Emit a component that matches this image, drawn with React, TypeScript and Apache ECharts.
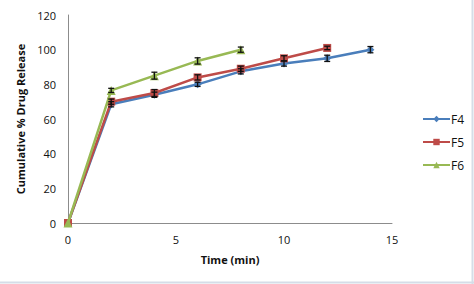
import React, { useEffect, useRef } from "react";
import * as echarts from "echarts";

// Sampling times (min) and cumulative % drug release per formulation
const timesF4 = [0, 2, 4, 6, 8, 10, 12, 14];
const releaseF4 = [0, 68.5, 74, 80, 87.5, 92, 95, 100];
const errorF4 = [0, 1.5, 1.5, 1.2, 1.5, 1.5, 1.8, 1.8];

const timesF5 = [0, 2, 4, 6, 8, 10, 12];
const releaseF5 = [0, 70, 75, 84, 89, 95, 101];
const errorF5 = [0, 1.5, 2, 1.5, 1.5, 1.5, 1.0];

const timesF6 = [0, 2, 4, 6, 8];
const releaseF6 = [0, 76.5, 85, 93.5, 100];
const errorF6 = [0, 1.2, 2, 1.8, 1.5];

const seriesNames = ["F4", "F5", "F6"];
const seriesColors = ["#4a7ebb", "#be4b48", "#98b954"];
const seriesSymbols = ["diamond", "rect", "triangle"];

const FONT = "'Open Sans', 'Liberation Sans', sans-serif";

function pairs(xs: number[], ys: number[]) {
  return xs.map((x, i) => [x, ys[i]]);
}

function triples(xs: number[], ys: number[], es: number[]) {
  return xs.map((x, i) => [x, ys[i], es[i]]);
}

// Vertical error bar with caps at each point
function errorBarItem(params: any, api: any) {
  const x = api.value(0);
  const y = api.value(1);
  const e = api.value(2);
  if (!e) return null;
  const top = api.coord([x, y + e]);
  const bottom = api.coord([x, y - e]);
  const half = 3;
  const style = { stroke: "#111", lineWidth: 1.3 };
  return {
    type: "group",
    children: [
      { type: "line", shape: { x1: top[0], y1: top[1], x2: bottom[0], y2: bottom[1] }, style },
      { type: "line", shape: { x1: top[0] - half, y1: top[1], x2: top[0] + half, y2: top[1] }, style },
      { type: "line", shape: { x1: bottom[0] - half, y1: bottom[1], x2: bottom[0] + half, y2: bottom[1] }, style },
    ],
  };
}

export default function App() {
  const ref = useRef<HTMLDivElement>(null);

  useEffect(() => {
    document.body.style.margin = "0";
    if (!ref.current) return;
    const chart = echarts.init(ref.current, undefined, { renderer: "svg" });

    const times = [timesF4, timesF5, timesF6];
    const values = [releaseF4, releaseF5, releaseF6];
    const errors = [errorF4, errorF5, errorF6];

    const lineSeries = seriesNames.map((name, i) => ({
      name,
      type: "line",
      data: pairs(times[i], values[i]),
      symbol: seriesSymbols[i],
      symbolSize: i === 2 ? 9 : 8,
      showSymbol: true,
      lineStyle: { color: seriesColors[i], width: 2.5 },
      itemStyle: { color: seriesColors[i] },
      z: 2 + i,
    }));

    const errorSeries = seriesNames.map((name, i) => ({
      name: name + " error",
      type: "custom",
      renderItem: errorBarItem,
      data: triples(times[i], values[i], errors[i]),
      z: 10,
      silent: true,
    }));

    chart.setOption({
      animation: false,
      backgroundColor: "#ffffff",
      color: seriesColors,
      grid: { left: 68, right: 82, top: 15, bottom: 61, containLabel: false },
      legend: {
        data: seriesNames,
        orient: "vertical",
        left: 417,
        top: 108,
        itemWidth: 27,
        itemHeight: 8,
        itemGap: 11,
        textStyle: { fontFamily: FONT, fontSize: 12, color: "#111", padding: [0, 0, 0, -4] },
      },
      xAxis: {
        type: "value",
        min: 0,
        max: 15,
        interval: 5,
        name: "Time (min)",
        nameLocation: "middle",
        nameGap: 31,
        nameTextStyle: { fontFamily: FONT, fontSize: 11, fontWeight: "bold", color: "#111" },
        axisLine: { lineStyle: { color: "#8c8c8c", width: 1 } },
        axisTick: { show: false },
        splitLine: { show: false },
        axisLabel: { fontFamily: FONT, fontSize: 11, color: "#111", margin: 11 },
      },
      yAxis: {
        type: "value",
        min: 0,
        max: 120,
        interval: 20,
        name: "Cumulative % Drug Release",
        nameLocation: "middle",
        nameGap: 42,
        nameTextStyle: { fontFamily: FONT, fontSize: 11, fontWeight: "bold", color: "#111" },
        axisLine: { show: true, lineStyle: { color: "#8c8c8c", width: 1 } },
        axisTick: { show: false },
        splitLine: { show: false },
        axisLabel: { fontFamily: FONT, fontSize: 11, color: "#111", margin: 12 },
      },
      graphic: [
        { type: "line", shape: { x1: 472.5, y1: 0, x2: 472.5, y2: 284 }, style: { stroke: "#d5dde8", lineWidth: 2 } },
        { type: "line", shape: { x1: 0, y1: 282.5, x2: 474, y2: 282.5 }, style: { stroke: "#d5dde8", lineWidth: 2 } },
      ],
      series: [...lineSeries, ...errorSeries],
    });

    return () => chart.dispose();
  }, []);

  return <div ref={ref} style={{ width: 474, height: 284 }} />;
}
